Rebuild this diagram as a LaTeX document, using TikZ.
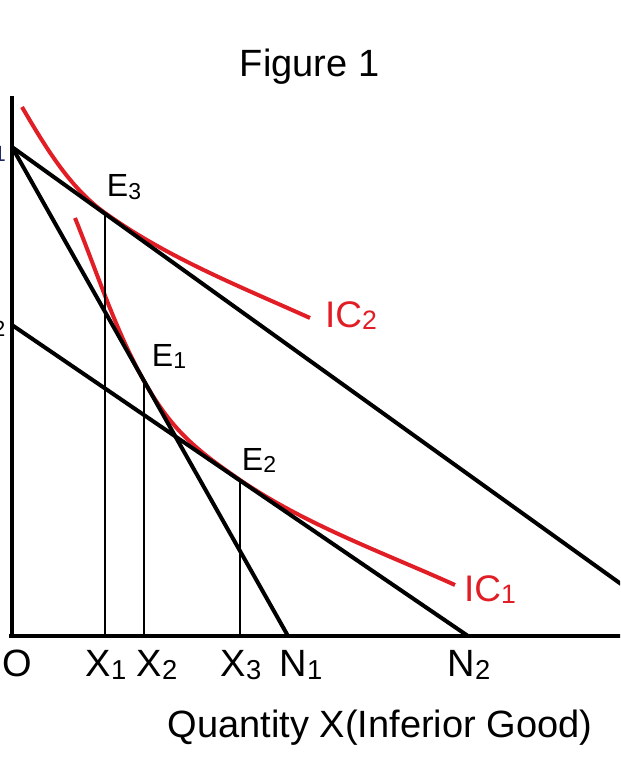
\documentclass[tikz,border=0pt]{standalone}
\usepackage{fontspec}
\setmainfont{Liberation Sans}
\definecolor{icred}{RGB}{225,30,38}
\definecolor{navyfrag}{RGB}{30,40,100}
\newcommand\mysub[1]{\raisebox{-0.08em}{\scalebox{0.72}{#1}}}
\begin{document}
\begin{tikzpicture}[x=1pt,y=-1pt,
  axisline/.style={line width=4.5pt},
  budget/.style={line width=4pt},
  icurve/.style={line width=4pt, icred},
  guide/.style={line width=1.2pt},
  biglbl/.style={inner sep=0, font=\fontsize{38}{45}\selectfont},
  elbl/.style={inner sep=0, font=\fontsize{32}{38}\selectfont},
  iclbl/.style={inner sep=0, text=icred, font=\fontsize{37}{44}\selectfont},
  fraglbl/.style={inner sep=0, font=\fontsize{22}{26}\selectfont}]
\useasboundingbox (0,0) rectangle (620,775);
\clip (0,0) rectangle (620,775);
\fill[white] (0,0) rectangle (620,775);
% key points
\coordinate (O) at (12,636);
\coordinate (ytop) at (12,96);
\coordinate (xend) at (621,636);
\coordinate (A1) at (12,147);
\coordinate (A2) at (12,325);
\coordinate (N1) at (288,636);
\coordinate (N2) at (468,636);
\coordinate (Bend) at (621,584);
\coordinate (E1) at (144,381);
\coordinate (E2) at (240,480);
\coordinate (E3) at (105,213);
\coordinate (F1) at (105,636);
\coordinate (F2) at (144,636);
\coordinate (F3) at (240,636);
\coordinate (IC1s) at (75,218);
\coordinate (IC1e) at (455,585);
\coordinate (IC2s) at (22,107);
\coordinate (IC2e) at (310,318);
% indifference curves
\draw[icurve] (IC2s) .. controls (44.3,145) and (69.2,187.4) .. (E3)
  .. controls (167.6,257.8) and (239.8,286.4) .. (IC2e);
\draw[icurve] (IC1s) .. controls (97.3,273) and (115.5,330.5) .. (E1)
  .. controls (171,429) and (194.6,449) .. (E2)
  .. controls (306,525) and (382,552) .. (IC1e);
% guides
\draw[guide] (E3) -- (F1);
\draw[guide] (E1) -- (F2);
\draw[guide] (E2) -- (F3);
% budget lines
\draw[budget] (A1) -- (N1);
\draw[budget] (A1) -- (Bend);
\draw[budget] (A2) -- (N2);
% axes
\draw[axisline] (ytop) -- (12,638);
\draw[axisline] (9,636) -- (xend);
% labels
\node[biglbl, anchor=base] (title) at (309.5,77) {Figure 1};
\node[elbl, anchor=base] (lE3) at (124,197) {E\mysub{3}};
\node[elbl, anchor=base] (lE1) at (169,366) {E\mysub{1}};
\node[elbl, anchor=base] (lE2) at (259,470) {E\mysub{2}};
\node[iclbl, anchor=base] (lIC2) at (351,327) {IC\mysub{2}};
\node[iclbl, anchor=base] (lIC1) at (490,601) {IC\mysub{1}};
\node[biglbl, anchor=base] (lO) at (17,676) {O};
\node[biglbl, anchor=base] (lX1) at (106,676) {X\mysub{1}};
\node[biglbl, anchor=base] (lX2) at (157,676) {X\mysub{2}};
\node[biglbl, anchor=base] (lX3) at (241,676) {X\mysub{3}};
\node[biglbl, anchor=base] (lN1) at (301,676) {N\mysub{1}};
\node[biglbl, anchor=base] (lN2) at (469,676) {N\mysub{2}};
\node[biglbl, anchor=base] (lQ) at (380,737) {Quantity X(Inferior Good)};
\node[fraglbl, anchor=base west, text=navyfrag] (frag1) at (-6.5,162) {1};
\node[fraglbl, anchor=base west] (frag2) at (-7,336) {2};
\end{tikzpicture}
\end{document}
